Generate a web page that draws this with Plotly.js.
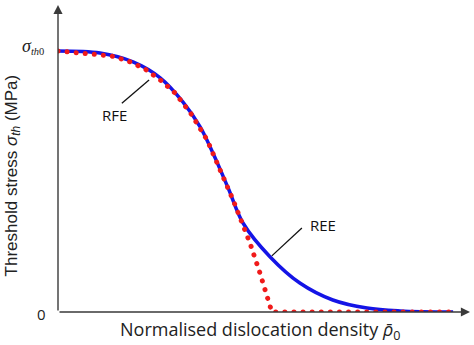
<!DOCTYPE html>
<html><head><meta charset="utf-8">
<script src="https://cdn.plot.ly/plotly-3.0.1.min.js"></script>
<style>
html,body{margin:0;padding:0;background:#fff;}
#chart .scatterlayer .trace:nth-child(2) path.js-line{stroke-linecap:round !important;}
</style>
</head><body>
<div id="chart" style="width:474px;height:345px;"></div>
<script>
// Normalised dislocation density (arbitrary units) and sigma_th / sigma_th0
const reeX = [0, 1.02, 1.82, 2.48, 3.03, 3.45, 3.76, 4.13, 4.49, 5.15, 5.87, 6.67, 7.50, 8.30, 9.59];
const reeY = [1.0, 0.992, 0.958, 0.897, 0.805, 0.709, 0.609, 0.475, 0.341, 0.211, 0.111, 0.046, 0.015, 0.004, 0.0];
const rfeX = [0, 0.41, 0.85, 1.29, 1.70, 2.11, 2.48, 2.84, 3.23, 3.62, 4.25, 4.66, 4.90, 5.07, 5.19, 9.64];
const rfeY = [1.0, 0.994, 0.990, 0.981, 0.962, 0.931, 0.889, 0.839, 0.759, 0.659, 0.429, 0.264, 0.150, 0.057, 0.0, 0.0];
const yTickVals = [0, 1];
const yTickText = ['0', '<i><span style="font-size:18px">σ</span><sub>th</sub></i><sub>0</sub>'];
const seriesNames = ['REE', 'RFE'];

const traces = [
  {x: reeX, y: reeY, mode: 'lines', name: seriesNames[0], line: {color: '#1414e6', width: 3.5, shape: 'spline', smoothing: 1}},
  {x: rfeX, y: rfeY, mode: 'lines', name: seriesNames[1], line: {color: '#f01a1a', width: 5, dash: '0.1px,9px', shape: 'linear'}}
];

const axCol = '#3a3a3a';
const layout = {
  width: 474, height: 345,
  margin: {l: 58, r: 4, t: 5, b: 33},
  paper_bgcolor: '#fff', plot_bgcolor: '#fff',
  showlegend: false,
  xaxis: {range: [0, 10], showgrid: false, zeroline: false, showline: false, showticklabels: false, ticks: ''},
  yaxis: {range: [0, 1.176], showgrid: false, zeroline: false, showline: false, showticklabels: false, ticks: ''},
  shapes: [
    {type: 'line', xref: 'x', yref: 'y', x0: 1.55, y0: 0.80, x1: 2.21, y1: 0.889, line: {color: '#111', width: 1.3}},
    {type: 'line', xref: 'x', yref: 'y', x0: 5.19, y0: 0.215, x1: 5.92, y1: 0.322, line: {color: '#111', width: 1.3}}
  ],
  annotations: [
    {x: 10, y: 0, ax: 0, ay: 0, xref: 'x', yref: 'y', axref: 'x', ayref: 'y', showarrow: true, arrowhead: 2, arrowsize: 1.3, arrowwidth: 1.4, arrowcolor: axCol, text: ''},
    {x: 0, y: 1.176, ax: 0, ay: 0, xref: 'x', yref: 'y', axref: 'x', ayref: 'y', showarrow: true, arrowhead: 2, arrowsize: 1.3, arrowwidth: 1.4, arrowcolor: axCol, text: ''},
    {x: 0, y: yTickVals[0], xref: 'x', yref: 'y', xanchor: 'right', yanchor: 'middle', xshift: -10, yshift: -2, showarrow: false, text: yTickText[0], font: {family: 'Open Sans, sans-serif', size: 15, color: '#222'}},
    {x: 0, y: yTickVals[1], xref: 'x', yref: 'y', xanchor: 'right', yanchor: 'middle', xshift: -12, yshift: 4, showarrow: false, text: yTickText[1], font: {family: 'Liberation Serif, serif', size: 15, color: '#222'}},
    {x: 1.36, y: 0.755, xref: 'x', yref: 'y', showarrow: false, text: seriesNames[1], font: {family: 'Open Sans, sans-serif', size: 15, color: '#111'}},
    {x: 6.43, y: 0.335, xref: 'x', yref: 'y', showarrow: false, text: seriesNames[0], font: {family: 'Open Sans, sans-serif', size: 15, color: '#111'}},
    {x: 0.5, y: 0, xref: 'paper', yref: 'paper', xanchor: 'center', yanchor: 'middle', yshift: -18, xshift: -4, showarrow: false,
     text: 'Normalised dislocation density <i>ρ̄</i><sub>0</sub>', font: {family: 'Open Sans, sans-serif', size: 18, color: '#222'}},
    {x: 0, y: 0.445, xref: 'paper', yref: 'paper', xanchor: 'center', yanchor: 'middle', xshift: -45, textangle: -90, showarrow: false,
     text: 'Threshold stress <i>σ<sub>th</sub></i> (MPa)', font: {family: 'Liberation Sans, Arial, sans-serif', size: 17, color: '#222'}}
  ]
};
Plotly.newPlot('chart', traces, layout, {staticPlot: true, displayModeBar: false});
</script>
</body></html>
